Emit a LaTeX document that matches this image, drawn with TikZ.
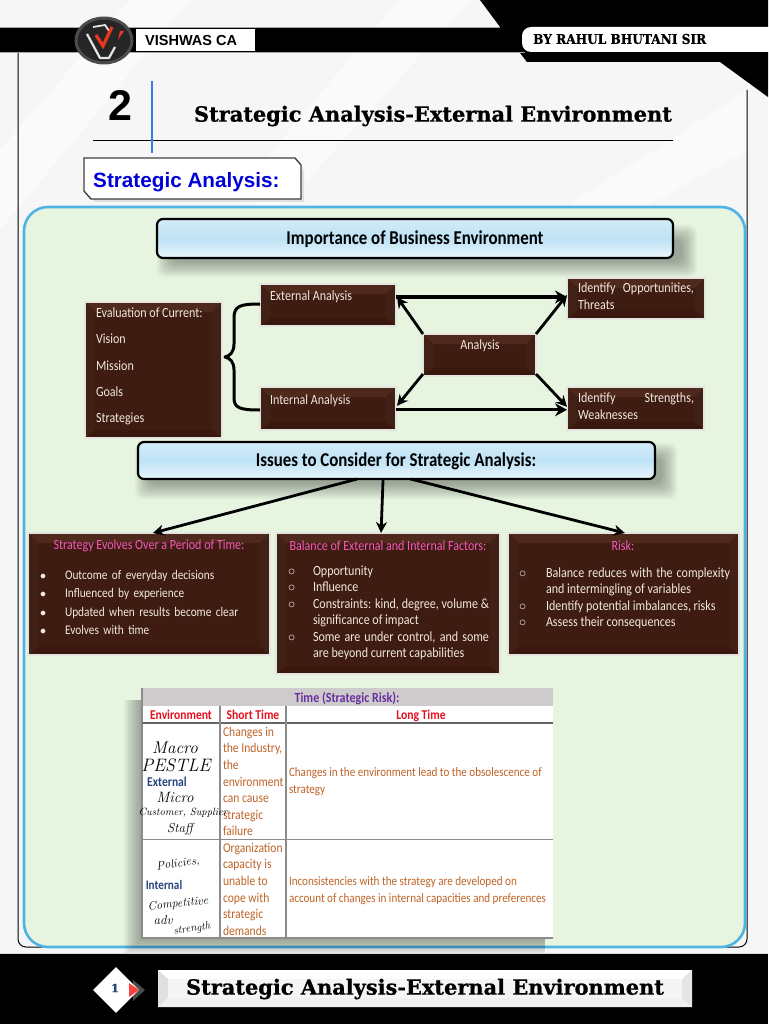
\documentclass[tikz,border=0pt]{standalone}
\usepackage{fontspec}
\usetikzlibrary{arrows.meta,calc,shapes.geometric}
\newfontfamily\hand[FakeStretch=0.86]{Carlito}
\newfontfamily\slab[BoldFeatures={FakeBold=0.8}]{DejaVu Serif}
\newfontfamily\slabnarrow[FakeStretch=0.9,BoldFeatures={FakeBold=0.6}]{DejaVu Serif}
\newfontfamily\arial{Liberation Sans}
\definecolor{bgpage}{HTML}{F6F6F6}
\definecolor{greenbg}{HTML}{E6F4E0}
\definecolor{skyline}{HTML}{4FB3E3}
\definecolor{brownmid}{HTML}{3E1C12}
\definecolor{browntop}{HTML}{4F2A1C}
\definecolor{brownside}{HTML}{412015}
\definecolor{brownbot}{HTML}{3A180E}
\definecolor{boxrim}{HTML}{E4E4E0}
\definecolor{creamtxt}{HTML}{F2E9E0}
\definecolor{pinktxt}{HTML}{F858BC}
\definecolor{celltxt}{HTML}{BF6428}
\definecolor{redhead}{HTML}{E8101E}
\definecolor{purplehead}{HTML}{6A2FA0}
\definecolor{navytxt}{HTML}{27457E}
\definecolor{tablegray}{HTML}{CDCBCB}
\definecolor{orangelogo}{HTML}{E8381E}
\definecolor{C1}{HTML}{D4ECF8}
\definecolor{C2}{HTML}{EAF6FC}
\definecolor{C3}{HTML}{BDE2F5}
\tikzset{
  brownnode/.style={rectangle,draw=boxrim,line width=1.6pt,fill=brownmid,inner sep=0pt,outer sep=0pt},
  bluenode/.style={rectangle,rounded corners=6pt,draw=black,line width=2.2pt,top color=C1,bottom color=C2,middle color=C3,inner sep=0pt,outer sep=0pt},
  bluetext/.style={inner sep=0pt,outer sep=0pt,text=black,font=\hand\bfseries\fontsize{19.6}{22}\selectfont},
  arrowthick/.style={line width=3.4pt,-{Stealth[length=12pt,width=13pt]}},
  arrowmid/.style={line width=2.8pt,-{Stealth[length=11pt,width=11pt]}},
  lbl/.style={inner sep=0pt,outer sep=0pt,text=creamtxt,font=\hand\fontsize{14}{16.4}\selectfont},
  headlbl/.style={inner sep=0pt,outer sep=0pt,text=pinktxt,font=\hand\fontsize{14}{16}\selectfont},
  cell/.style={inner sep=0pt,outer sep=0pt,text=celltxt,font=\hand\fontsize{13.5}{16.6}\selectfont,align=left},
  colhead/.style={inner sep=0pt,outer sep=0pt,text=redhead,font=\hand\bfseries\fontsize{13.5}{16}\selectfont},
  script/.style={inner sep=0pt,outer sep=0pt,text=black,font=\itshape},
  navy/.style={inner sep=0pt,outer sep=0pt,text=navytxt,font=\hand\bfseries\fontsize{13.5}{16}\selectfont},
  slabtitle/.style={inner sep=0pt,outer sep=0pt,text=black,font=\slab\bfseries\fontsize{20.9}{24}\selectfont},
  tableline/.style={draw=black!45,line width=1.2pt}
}
% #1 name, #2 x1, #3 y1, #4 x2, #5 y2
\newcommand\brownbox[5]{%
  \node[brownnode,minimum width=#4pt-#2pt,minimum height=#5pt-#3pt] (#1) at ({(#2+#4)/2},{(#3+#5)/2}) {};
  \fill[browntop] (#2,#3)--(#4,#3)--(#4-10,#3+10)--(#2+10,#3+10)--cycle;
  \fill[brownside] (#2,#3)--(#2+10,#3+10)--(#2+10,#5-8)--(#2,#5)--cycle;
  \fill[brownside] (#4,#3)--(#4-10,#3+10)--(#4-10,#5-8)--(#4,#5)--cycle;
  \fill[brownbot] (#2,#5)--(#2+10,#5-8)--(#4-10,#5-8)--(#4,#5)--cycle;
  \draw[boxrim,line width=1.6pt] (#2,#3) rectangle (#4,#5);
}
\newcommand\softshadow[5][6]{%
  \foreach \s in {0,1.5,...,15}{\fill[black,opacity=0.03,rounded corners=#1pt] (#2-\s,#3-\s) rectangle (#4+\s,#5+\s);}
}
\newcommand\itemrow[2]{\par\noindent\hangindent=#1pt\hangafter=1\makebox[#1pt][l]{#2}\ignorespaces}
\begin{document}
\begin{tikzpicture}[x=1pt,y=-1pt]
\useasboundingbox (0,0) rectangle (768,1024);
% page
\fill[bgpage] (0,0) rectangle (768,1024);
\fill[white,opacity=.5] (0,150)--(130,0)--(190,0)--(0,230)--cycle;
\fill[white,opacity=.5] (230,200)--(400,0)--(470,0)--(280,210)--cycle;
\fill[white,opacity=.5] (560,210)--(748,90)--(748,150)--(640,210)--cycle;
% page frame
\draw[black,line width=1pt,rounded corners=8pt] (18,52)--(18,947)--(747,947)--(747,90);
% top band
\fill[black] (480,0)--(768,0)--(768,97)--(720,62)--(527,62)--(500,27)--cycle;
\fill[black] (0,27) rectangle (768,52);
\draw[black!35,line width=.6pt] (0,27)--(500,27) (0,52.5)--(525,52.5);
\fill[white,rounded corners=9pt] (522,27)--(522,52)--(780,52)--(780,27)--cycle;
\node[inner sep=0pt,outer sep=0pt,minimum width=119pt,minimum height=22pt,fill=white] (brandbox) at (195.5,40) {};
\node[inner sep=0pt,anchor=west,font=\arial\bfseries\fontsize{14.5}{16}\selectfont] (brand) at (145,41) {VISHWAS CA};
\node[inner sep=0pt,anchor=west,font=\slabnarrow\bfseries\fontsize{13.5}{16}\selectfont] (author) at (533,39) {BY RAHUL BHUTANI SIR};
% logo
\node[ellipse,fill=black!85,draw=black!70,line width=3pt,minimum width=56pt,minimum height=45pt,inner sep=0pt] (logo) at (104,40.5) {};
\draw[white!90!black,line width=2.2pt,line join=round] (87,34)--(100,58)--(109,58)--(115,47);
\draw[white!90!black,line width=1.8pt,line join=round] (93,27)--(105,25)--(109,31);
\draw[orangelogo,line width=3.2pt,line join=miter] (96,35)--(103,46)--(112,27);
\fill[orangelogo] (120,31)--(124,31)--(118,40)--cycle;
% heading
\node[inner sep=0pt,font=\arial\bfseries\fontsize{43}{44}\selectfont] (chap) at (120,105) {2};
\coordinate (vtop) at (152,81);
\coordinate (vbot) at (152,153);
\draw[black,line width=1pt] (93,141)--(673,141);
\draw[skyline!70!blue,line width=1.4pt] (vtop)--(vbot);
\node[slabtitle,anchor=west] (title) at (194,116) {Strategic Analysis-External Environment};
% section tag
\fill[black!12] (87,162)--(297,162)--(304,170)--(304,202)--(95,202)--(87,194)--cycle;
\node[inner sep=0pt,outer sep=0pt,minimum width=217pt,minimum height=41pt] (tagbox) at (192.5,178.5) {};
\draw[black!75,line width=1.4pt,fill=white] (84,158)--(295,158)--(301,165)--(301,199)--(91,199)--(84,191)--cycle;
\node[inner sep=0pt,anchor=west,text=blue!85!black,font=\arial\bfseries\fontsize{20.7}{22}\selectfont] (tag) at (93,182) {Strategic Analysis:};
% green panel
\draw[skyline,line width=2.6pt,fill=greenbg,rounded corners=24pt] (24,207) rectangle (745,947);
% blue headers
\softshadow[8]{172}{240}{682}{262}
\node[bluenode,minimum width=516pt,minimum height=39pt] (imp) at (415,238.5) {};
\node[bluetext] (impt) at (415,239) {Importance of Business Environment};
\brownbox{evalbox}{85}{302}{222}{438}
\brownbox{ext}{260}{284}{396}{326}
\brownbox{int}{260}{387}{396}{430}
\brownbox{ana}{423}{334}{536}{376}
\brownbox{opp}{567}{278}{705}{319}
\brownbox{str}{567}{387}{704}{430}
\softshadow[8]{150}{458}{662}{484}
\node[bluenode,minimum width=517pt,minimum height=37pt] (iss) at (396.5,460.5) {};
\node[bluetext] (isst) at (396,461) {Issues to Consider for Strategic Analysis:};
% text in upper boxes
\node[lbl,anchor=north west,align=left,font=\hand\fontsize{14}{26.2}\selectfont] (evalt) at (96,308) {Evaluation of Current:\\Vision\\Mission\\Goals\\Strategies};
\node[lbl,anchor=west] (extt) at (270,297) {External Analysis};
\node[lbl,anchor=west] (intt) at (270,401) {Internal Analysis};
\node[lbl] (anat) at (480,346) {Analysis};
\node[lbl,anchor=north west,text width=116pt,align=justify] (oppt) at (578,283) {Identify Opportunities, Threats\par};
\node[lbl,anchor=north west,text width=116pt,align=justify] (strt) at (578,393) {Identify Strengths, Weaknesses\par};
% connectors upper
\coordinate (e1) at ($(ext.north east)!.31!(ext.south east)$);
\coordinate (i1) at ($(int.north east)!.53!(int.south east)$);
\draw[arrowthick] (e1)--(e1 -| opp.west);
\draw[arrowthick] (i1)--(i1 -| str.west);
\draw[arrowmid] (ana.north west)--($(e1)+(1,0)$);
\draw[arrowmid] (ana.north east)--($(e1 -| opp.west)+(0,-2)$);
\draw[arrowmid] ($(ana.south west)+(0,-2)$)--($(i1)+(1,-4)$);
\draw[arrowmid] ($(ana.south east)+(0,-2)$)--($(i1 -| str.west)+(0,-3)$);
\draw[line width=3pt,line join=round] (ext.west |- 0,304) .. controls (240,304) and (234,306) .. (234,318) -- (234,344) .. controls (234,352) and (230,356) .. (225,357) .. controls (230,358) and (234,362) .. (234,370) -- (234,398) .. controls (234,408) and (240,410) .. (int.west |- 0,410);
% lower brown boxes
\brownbox{boxA}{28}{533}{270}{655}
\brownbox{boxB}{276}{533}{500}{674}
\brownbox{boxC}{508}{533}{739}{655}
\draw[arrowmid] ($(iss.south west)!.424!(iss.south east)$)--($(boxA.north west)!.516!(boxA.north east)$);
\draw[arrowmid] ($(iss.south west)!.474!(iss.south east)$)--($(boxB.north west)!.469!(boxB.north east)$);
\draw[arrowmid] ($(iss.south west)!.527!(iss.south east)$)--($(boxC.north west)!.506!(boxC.north east)$);
\node[headlbl] (headA) at (149,546) {Strategy Evolves Over a Period of Time:};
\node[headlbl] (headB) at (388,546) {Balance of External and Internal Factors:};
\node[headlbl] (headC) at (623,546) {Risk:};
\node[lbl,anchor=north west,text width=218pt,align=left,font=\hand\fontsize{13.2}{18.4}\selectfont] (listA) at (40,561) {%
\itemrow{25}{$\bullet$}Outcome of everyday decisions
\itemrow{25}{$\bullet$}Influenced by experience
\itemrow{25}{$\bullet$}Updated when results become clear
\itemrow{25}{$\bullet$}Evolves with time\par};
\node[lbl,anchor=north west,text width=201pt,align=justify] (listB) at (288,559) {%
\itemrow{25}{$\circ$}Opportunity
\itemrow{25}{$\circ$}Influence
\itemrow{25}{$\circ$}Constraints: kind, degree, volume \& significance of impact
\itemrow{25}{$\circ$}Some are under control, and some are beyond current capabilities\par};
\node[lbl,anchor=north west,text width=211pt,align=justify] (listC) at (519,561) {%
\itemrow{27}{$\circ$}Balance reduces with the complexity and intermingling of variables
\itemrow{27}{$\circ$}Identify potential imbalances, risks
\itemrow{27}{$\circ$}Assess their consequences\par};
% table
\foreach \s in {0,2,...,16}{\fill[black,opacity=.04] (140-\s,700) rectangle (545,940+\s);}
\node[rectangle,fill=white,inner sep=0pt,outer sep=0pt,minimum width=411pt,minimum height=250pt] (tbl) at (347.5,813) {};
\fill[tablegray] (142,688) rectangle (553,706);
\draw[tableline] (142,688)--(142,938)--(553,938);
\draw[draw=black!60,line width=1.2pt] (142,723)--(553,723);
\draw[tableline] (142,839.5)--(553,839.5);
\draw[tableline] (220,706)--(220,938) (286,706)--(286,938);
\node[inner sep=0pt,text=purplehead,font=\hand\bfseries\fontsize{14}{16}\selectfont] (tblt) at (347,698) {Time (Strategic Risk):};
\node[colhead] (h1) at (181,715) {Environment};
\node[colhead] (h2) at (253,715) {Short Time};
\node[colhead] (h3) at (421,716) {Long Time};
\node[cell,anchor=north west] (s1) at (223,727) {Changes in\\the Industry,\\the\\environment\\can cause\\strategic\\failure};
\node[cell,anchor=north west] (s2) at (223,843) {Organization\\capacity is\\unable to\\cope with\\strategic\\demands};
\node[cell,anchor=north west,font=\hand\fontsize{12.9}{16.6}\selectfont] (l1) at (289,768) {Changes in the environment lead to the obsolescence of\\strategy};
\node[cell,anchor=north west,font=\hand\fontsize{12.9}{16.6}\selectfont] (l2) at (289,877) {Inconsistencies with the strategy are developed on\\account of changes in internal capacities and preferences};
% handwriting & labels
\node[script,font=\itshape\fontsize{17}{18}\selectfont] (m1) at (175,748) {Macro};
\node[script,font=\itshape\fontsize{18}{20}\selectfont] (m2) at (176,765) {PESTLE};
\node[navy] (m3) at (167,782) {External};
\node[script,font=\itshape\fontsize{15}{18}\selectfont] (m4) at (175,797) {Micro};
\node[script,font=\itshape\fontsize{10.5}{14}\selectfont] (m5) at (183,813) {Customer, Supplier};
\node[script,font=\itshape\fontsize{13}{15}\selectfont] (m6) at (180,829) {Staff};
\node[script,rotate=8,font=\itshape\fontsize{12}{14}\selectfont] (m7) at (178,864) {Policies,};
\node[navy,font=\hand\bfseries\fontsize{13}{16}\selectfont] (m8) at (164,885) {Internal};
\node[script,rotate=6,font=\itshape\fontsize{12}{15}\selectfont] (m9) at (178,904) {Competitive};
\node[script,font=\itshape\fontsize{13}{15}\selectfont] (m10) at (163,920) {adv};
\node[script,rotate=8,font=\itshape\fontsize{11}{14}\selectfont] (m11) at (192,929) {strength};
% footer
\fill[black] (0,953) rectangle (768,1024);
\draw[white!85!black,line width=.8pt] (0,953)--(768,953);
\node[rectangle,fill=white,inner sep=0pt,outer sep=0pt,minimum width=534pt,minimum height=37pt] (foot) at (425,988.5) {};
\fill[black!12] (158,970)--(168,979)--(168,998)--(158,1007)--cycle;
\fill[black!6] (168,998)--(682,998)--(692,1007)--(158,1007)--cycle;
\fill[black!10] (692,970)--(682,979)--(682,998)--(692,1007)--cycle;
\fill[black!4] (168,979) rectangle (682,998);
\node[slabtitle] (foottxt) at (425,989) {Strategic Analysis-External Environment};
\fill[black!70] (133,980)--(145,990)--(133,1001)--cycle;
\node[diamond,fill=white,inner sep=0pt,minimum width=46pt,minimum height=46pt,aspect=1] (pagedia) at (116,990) {};
\fill[red!75!white] (129,983)--(139,990)--(129,997)--cycle;
\node[inner sep=0pt,text=navytxt,font=\slab\bfseries\fontsize{11}{12}\selectfont] (pagenum) at (115,988) {1};
\end{tikzpicture}
\end{document}
